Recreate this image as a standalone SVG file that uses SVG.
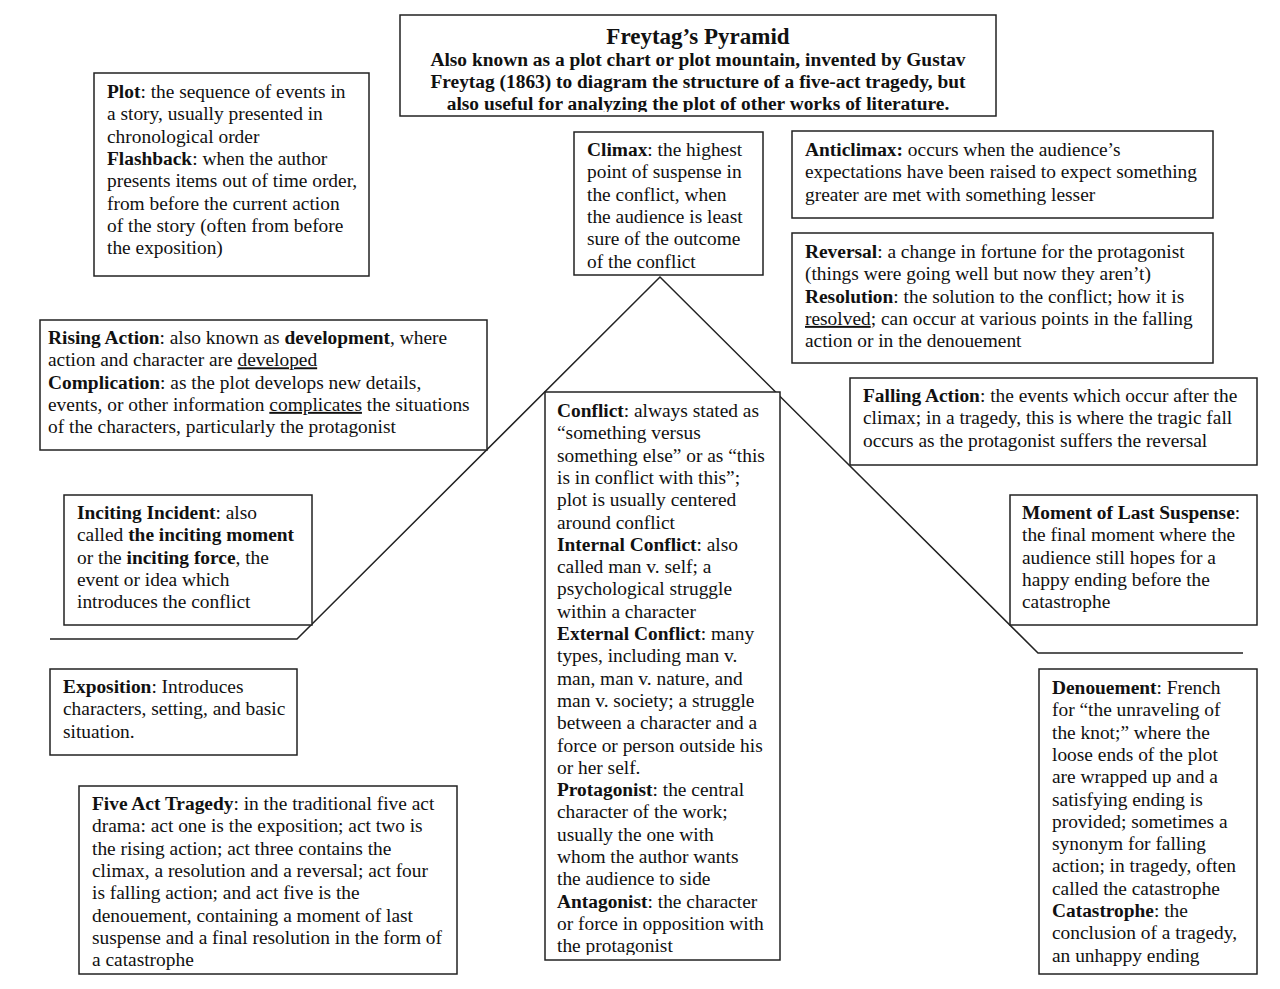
<svg xmlns="http://www.w3.org/2000/svg" width="1280" height="989" viewBox="0 0 1280 989">
<style>
.box{fill:#fff;stroke:#222;stroke-width:1.5}
.t{font-family:"Liberation Serif","Times New Roman",serif;font-size:19.4px;fill:#111}
.b{font-weight:bold}
.h{font-size:23px}
.u{text-decoration:underline}
.ln{fill:none;stroke:#222;stroke-width:1.5}
</style>
<defs>
<clipPath id="clipTitle"><rect x="401" y="16" width="594" height="96"/></clipPath>
<clipPath id="clipConflict"><rect x="546" y="393" width="233" height="562"/></clipPath>
</defs>
<rect width="1280" height="989" fill="#fff"/>
<g id="connectors">
<polyline class="ln" points="50,639 297,639 660,277 1038,653 1243,653"/>
</g>
<g id="title">
<rect class="box" x="400" y="15" width="596" height="101"/>
<g clip-path="url(#clipTitle)">
<text class="t b h" x="698" y="44" text-anchor="middle">Freytag’s Pyramid</text>
<text class="t b" x="698" y="66" text-anchor="middle">Also known as a plot chart or plot mountain, invented by Gustav</text>
<text class="t b" x="698" y="88" text-anchor="middle">Freytag (1863) to diagram the structure of a five-act tragedy, but</text>
<text class="t b" x="698" y="110" text-anchor="middle">also useful for analyzing the plot of other works of literature.</text>
</g>
</g>
<g id="plot">
<rect class="box" x="94" y="73" width="275" height="203"/>
<text class="t" x="107" y="98"><tspan class="b">Plot</tspan>: the sequence of events in<tspan x="107" dy="22.3">a story, usually presented in</tspan><tspan x="107" dy="22.3">chronological order</tspan><tspan x="107" dy="22.3" class="b">Flashback</tspan>: when the author<tspan x="107" dy="22.3">presents items out of time order,</tspan><tspan x="107" dy="22.3">from before the current action</tspan><tspan x="107" dy="22.3">of the story (often from before</tspan><tspan x="107" dy="22.3">the exposition)</tspan></text>
</g>
<g id="climax">
<rect class="box" x="574" y="132" width="189" height="143"/>
<text class="t" x="587" y="156"><tspan class="b">Climax</tspan>: the highest<tspan x="587" dy="22.3">point of suspense in</tspan><tspan x="587" dy="22.3">the conflict, when</tspan><tspan x="587" dy="22.3">the audience is least</tspan><tspan x="587" dy="22.3">sure of the outcome</tspan><tspan x="587" dy="22.3">of the conflict</tspan></text>
</g>
<g id="anticlimax">
<rect class="box" x="792" y="131" width="421" height="87"/>
<text class="t" x="805" y="156"><tspan class="b">Anticlimax:</tspan> occurs when the audience’s<tspan x="805" dy="22.3">expectations have been raised to expect something</tspan><tspan x="805" dy="22.3">greater are met with something lesser</tspan></text>
</g>
<g id="reversal">
<rect class="box" x="792" y="233" width="421" height="130"/>
<text class="t" x="805" y="258"><tspan class="b">Reversal</tspan>: a change in fortune for the protagonist<tspan x="805" dy="22.3">(things were going well but now they aren’t)</tspan><tspan x="805" dy="22.3" class="b">Resolution</tspan>: the solution to the conflict; how it is<tspan x="805" dy="22.3" class="u">resolved</tspan>; can occur at various points in the falling<tspan x="805" dy="22.3">action or in the denouement</tspan></text>
</g>
<g id="rising-action">
<rect class="box" x="40" y="320" width="447" height="130"/>
<text class="t" x="48" y="344"><tspan class="b">Rising Action</tspan>: also known as <tspan class="b">development</tspan>, where<tspan x="48" dy="22.3">action and character are </tspan><tspan class="u">developed</tspan><tspan x="48" dy="22.3" class="b">Complication</tspan>: as the plot develops new details,<tspan x="48" dy="22.3">events, or other information </tspan><tspan class="u">complicates</tspan> the situations<tspan x="48" dy="22.3">of the characters, particularly the protagonist</tspan></text>
</g>
<g id="falling-action">
<rect class="box" x="850" y="378" width="407" height="87"/>
<text class="t" x="863" y="402"><tspan class="b">Falling Action</tspan>: the events which occur after the<tspan x="863" dy="22.3">climax; in a tragedy, this is where the tragic fall</tspan><tspan x="863" dy="22.3">occurs as the protagonist suffers the reversal</tspan></text>
</g>
<g id="conflict">
<rect class="box" x="545" y="392" width="235" height="568"/>
<g clip-path="url(#clipConflict)">
<text class="t" x="557" y="417"><tspan class="b">Conflict</tspan>: always stated as<tspan x="557" dy="22.3">“something versus</tspan><tspan x="557" dy="22.3">something else” or as “this</tspan><tspan x="557" dy="22.3">is in conflict with this”;</tspan><tspan x="557" dy="22.3">plot is usually centered</tspan><tspan x="557" dy="22.3">around conflict</tspan><tspan x="557" dy="22.3" class="b">Internal Conflict</tspan>: also<tspan x="557" dy="22.3">called man v. self; a</tspan><tspan x="557" dy="22.3">psychological struggle</tspan><tspan x="557" dy="22.3">within a character</tspan><tspan x="557" dy="22.3" class="b">External Conflict</tspan>: many<tspan x="557" dy="22.3">types, including man v.</tspan><tspan x="557" dy="22.3">man, man v. nature, and</tspan><tspan x="557" dy="22.3">man v. society; a struggle</tspan><tspan x="557" dy="22.3">between a character and a</tspan><tspan x="557" dy="22.3">force or person outside his</tspan><tspan x="557" dy="22.3">or her self.</tspan><tspan x="557" dy="22.3" class="b">Protagonist</tspan>: the central<tspan x="557" dy="22.3">character of the work;</tspan><tspan x="557" dy="22.3">usually the one with</tspan><tspan x="557" dy="22.3">whom the author wants</tspan><tspan x="557" dy="22.3">the audience to side</tspan><tspan x="557" dy="22.3" class="b">Antagonist</tspan>: the character<tspan x="557" dy="22.3">or force in opposition with</tspan><tspan x="557" dy="22.3">the protagonist</tspan></text>
</g>
</g>
<g id="inciting-incident">
<rect class="box" x="64" y="495" width="248" height="130"/>
<text class="t" x="77" y="519"><tspan class="b">Inciting Incident</tspan>: also<tspan x="77" dy="22.3">called </tspan><tspan class="b">the inciting moment</tspan><tspan x="77" dy="22.3">or the </tspan><tspan class="b">inciting force</tspan>, the<tspan x="77" dy="22.3">event or idea which</tspan><tspan x="77" dy="22.3">introduces the conflict</tspan></text>
</g>
<g id="exposition">
<rect class="box" x="50" y="669" width="247" height="86"/>
<text class="t" x="63" y="693"><tspan class="b">Exposition</tspan>: Introduces<tspan x="63" dy="22.3">characters, setting, and basic</tspan><tspan x="63" dy="22.3">situation.</tspan></text>
</g>
<g id="five-act-tragedy">
<rect class="box" x="79" y="786" width="378" height="188"/>
<text class="t" x="92" y="810"><tspan class="b">Five Act Tragedy</tspan>: in the traditional five act<tspan x="92" dy="22.3">drama: act one is the exposition; act two is</tspan><tspan x="92" dy="22.3">the rising action; act three contains the</tspan><tspan x="92" dy="22.3">climax, a resolution and a reversal; act four</tspan><tspan x="92" dy="22.3">is falling action; and act five is the</tspan><tspan x="92" dy="22.3">denouement, containing a moment of last</tspan><tspan x="92" dy="22.3">suspense and a final resolution in the form of</tspan><tspan x="92" dy="22.3">a catastrophe</tspan></text>
</g>
<g id="moment-of-last-suspense">
<rect class="box" x="1010" y="495" width="247" height="130"/>
<text class="t" x="1022" y="519"><tspan class="b">Moment of Last Suspense</tspan>:<tspan x="1022" dy="22.3">the final moment where the</tspan><tspan x="1022" dy="22.3">audience still hopes for a</tspan><tspan x="1022" dy="22.3">happy ending before the</tspan><tspan x="1022" dy="22.3">catastrophe</tspan></text>
</g>
<g id="denouement">
<rect class="box" x="1039" y="669" width="218" height="305"/>
<text class="t" x="1052" y="694"><tspan class="b">Denouement</tspan>: French<tspan x="1052" dy="22.3">for “the unraveling of</tspan><tspan x="1052" dy="22.3">the knot;” where the</tspan><tspan x="1052" dy="22.3">loose ends of the plot</tspan><tspan x="1052" dy="22.3">are wrapped up and a</tspan><tspan x="1052" dy="22.3">satisfying ending is</tspan><tspan x="1052" dy="22.3">provided; sometimes a</tspan><tspan x="1052" dy="22.3">synonym for falling</tspan><tspan x="1052" dy="22.3">action; in tragedy, often</tspan><tspan x="1052" dy="22.3">called the catastrophe</tspan><tspan x="1052" dy="22.3" class="b">Catastrophe</tspan>: the<tspan x="1052" dy="22.3">conclusion of a tragedy,</tspan><tspan x="1052" dy="22.3">an unhappy ending</tspan></text>
</g>
</svg>
